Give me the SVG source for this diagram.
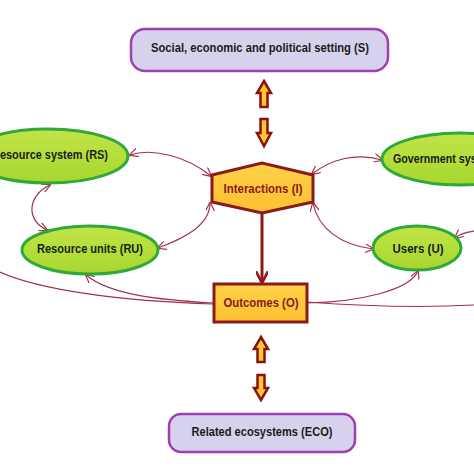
<svg xmlns="http://www.w3.org/2000/svg" width="474" height="474" viewBox="0 0 474 474">
<defs>
<style>
.eco{fill:#d6d1ec;stroke:#a040b0;stroke-width:2.5}
.ell{fill:url(#gg);stroke:#2faa3a;stroke-width:3}
.gold{fill:url(#yg);stroke:#8b1a1a;stroke-width:3}
.blk{fill:#ffc833;stroke:#8b1010;stroke-width:2.5;stroke-linejoin:miter}
.t{font-family:"Liberation Sans",Arial,sans-serif;font-weight:bold;font-size:12.5px;fill:#1c1c1c;text-anchor:middle}
.tr{fill:#8b1a1a}
.c{fill:none;stroke:#a0304a;stroke-width:1.2}
.main{fill:none;stroke:#8b1a1a;stroke-width:3}
</style>
<linearGradient id="gg" x1="0" y1="0" x2="0" y2="1">
<stop offset="0" stop-color="#c0e448"/>
<stop offset="0.5" stop-color="#b4de3a"/>
<stop offset="1" stop-color="#a8d630"/>
</linearGradient>
<linearGradient id="yg" x1="0" y1="0" x2="0" y2="1">
<stop offset="0" stop-color="#ffd24a"/>
<stop offset="1" stop-color="#fcc030"/>
</linearGradient>
<marker id="ah" viewBox="0 0 10 10" refX="9" refY="5" markerWidth="9" markerHeight="9" markerUnits="userSpaceOnUse" orient="auto-start-reverse">
<path d="M0,0 L10,5 L0,10" fill="none" stroke="#a0304a" stroke-width="1.3"/>
</marker>
<marker id="mh" viewBox="0 0 10 10" refX="9" refY="5" markerWidth="12" markerHeight="12" markerUnits="userSpaceOnUse" orient="auto">
<path d="M0,0 L10,5 L0,10" fill="none" stroke="#8b1a1a" stroke-width="2.2"/>
</marker>
</defs>
<rect width="474" height="474" fill="#ffffff"/>

<g id="connectors">
<path class="c" d="M130,155 C150,148 185,155 211,176" marker-start="url(#ah)" marker-end="url(#ah)"/>
<path class="c" d="M312,174 C330,160 355,152 382,160" marker-start="url(#ah)" marker-end="url(#ah)"/>
<path class="c" d="M50,185 C28,195 25,220 47,230" marker-start="url(#ah)" marker-end="url(#ah)"/>
<path class="c" d="M210,203 C210,225 185,238 158,248" marker-start="url(#ah)" marker-end="url(#ah)"/>
<path class="c" d="M313,203 C318,228 340,245 373,249" marker-start="url(#ah)" marker-end="url(#ah)"/>
<path class="c" d="M213,303 C160,300 110,295 86,275" marker-end="url(#ah)"/>
<path class="c" d="M307,303 C360,302 410,290 418,271" marker-end="url(#ah)"/>
<path class="c" d="M0,272 C40,290 120,301 213,304"/>
<path class="c" d="M307,302 C360,306 420,308 474,305"/>
<path class="c" d="M476,231 C466,232 460,234 455,238" marker-end="url(#ah)"/>
<path class="main" d="M262,213 L262,282" marker-end="url(#mh)"/>
<path class="blk" d="M264,81 L271,93 L267.5,93 L267.5,107 L260.5,107 L260.5,93 L257,93 Z"/>
<path class="blk" d="M260.5,119 L267.5,119 L267.5,133 L271,133 L264,146 L257,133 L260.5,133 Z"/>
<path class="blk" d="M261,337 L268,349 L264.5,349 L264.5,362 L257.5,362 L257.5,349 L254,349 Z"/>
<path class="blk" d="M257.5,375 L264.5,375 L264.5,388 L268,388 L261,400 L254,388 L257.5,388 Z"/>
</g>

<g id="node-S">
<rect class="eco" x="131" y="29" width="257" height="42" rx="14" ry="14"/>
<text class="t" x="260" y="52" textLength="218" lengthAdjust="spacingAndGlyphs">Social, economic and political setting (S)</text>
</g>

<g id="node-RS">
<ellipse class="ell" cx="48" cy="156" rx="80" ry="27"/>
<text class="t" x="50" y="159" textLength="116" lengthAdjust="spacingAndGlyphs">Resource system (RS)</text>
</g>

<g id="node-RU">
<ellipse class="ell" cx="90" cy="250" rx="68" ry="24"/>
<text class="t" x="90" y="253" textLength="106" lengthAdjust="spacingAndGlyphs">Resource units (RU)</text>
</g>

<g id="node-GS">
<ellipse class="ell" cx="460" cy="159" rx="78" ry="26"/>
<text class="t" x="393" y="163" style="text-anchor:start" textLength="128" lengthAdjust="spacingAndGlyphs">Government system (GS)</text>
</g>

<g id="node-U">
<ellipse class="ell" cx="417" cy="248" rx="44" ry="22"/>
<text class="t" x="418" y="253" textLength="51" lengthAdjust="spacingAndGlyphs">Users (U)</text>
</g>

<g id="node-I">
<polygon class="gold" points="212,175 262,163 313,175 313,202 262,213 212,202"/>
<text class="t tr" x="263" y="193" textLength="79" lengthAdjust="spacingAndGlyphs">Interactions (I)</text>
</g>

<g id="node-O">
<rect class="gold" x="214" y="284" width="93" height="38"/>
<text class="t tr" x="261" y="307" textLength="75" lengthAdjust="spacingAndGlyphs">Outcomes (O)</text>
</g>

<g id="node-ECO">
<rect class="eco" x="169" y="414" width="186" height="38" rx="12" ry="12"/>
<text class="t" x="262" y="436" textLength="141" lengthAdjust="spacingAndGlyphs">Related ecosystems (ECO)</text>
</g>
</svg>
